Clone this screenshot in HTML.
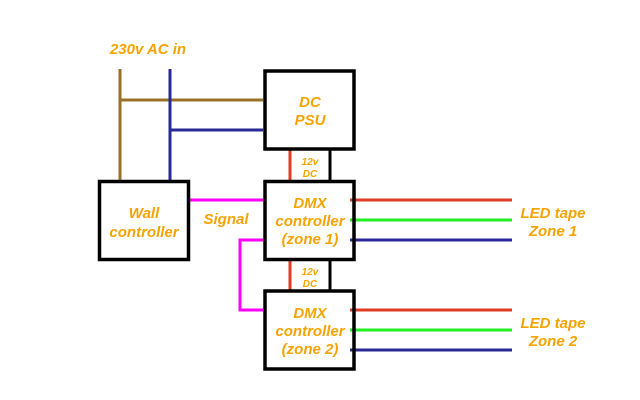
<!DOCTYPE html>
<html><head><meta charset="utf-8"><style>
html,body{margin:0;padding:0;background:#fff;width:640px;height:400px;overflow:hidden}
text{font-family:"Liberation Sans",sans-serif;font-weight:bold;font-style:italic;fill:#f5a300;text-anchor:middle}
</style></head><body>
<svg width="640" height="400" viewBox="0 0 640 400" xmlns="http://www.w3.org/2000/svg">
<g fill="none" stroke-width="3">
<path d="M120 69V181M120 100H263" stroke="#9a7027"/>
<path d="M170 69V181M170 130H263" stroke="#282896"/>
<path d="M290 150V181M290 260V291" stroke="#e03b24"/>
<path d="M330 150V181M330 260V291" stroke="#000"/>
<path d="M190 200H263M263 240H240V310H263" stroke="#ff00ff"/>
<path d="M350 200H512M350 310H512" stroke="#e03b24"/>
<path d="M350 220H512M350 330H512" stroke="#22ee22"/>
<path d="M350 240H512M350 350H512" stroke="#282896"/>
</g>
<g fill="none" stroke-width="3.5" stroke="#000">
<rect x="265" y="71" width="89" height="78"/>
<rect x="99.5" y="181.5" width="89" height="78"/>
<rect x="265" y="181.5" width="89" height="78"/>
<rect x="265" y="291" width="89" height="78"/>
</g>
<text x="148" y="54" font-size="15">230v AC in</text>
<text x="310" y="107" font-size="15">DC</text>
<text x="310" y="125" font-size="15">PSU</text>
<text x="310" y="165" font-size="10">12v</text>
<text x="310" y="177" font-size="10">DC</text>
<text x="310" y="275" font-size="10">12v</text>
<text x="310" y="287" font-size="10">DC</text>
<text x="144" y="218" font-size="15">Wall</text>
<text x="144" y="237" font-size="15">controller</text>
<text x="226" y="224" font-size="15">Signal</text>
<text x="310" y="208" font-size="15">DMX</text>
<text x="310" y="226" font-size="15">controller</text>
<text x="310" y="244" font-size="15">(zone 1)</text>
<text x="310" y="318" font-size="15">DMX</text>
<text x="310" y="336" font-size="15">controller</text>
<text x="310" y="354" font-size="15">(zone 2)</text>
<text x="553" y="218" font-size="15">LED tape</text>
<text x="553" y="236" font-size="15">Zone 1</text>
<text x="553" y="328" font-size="15">LED tape</text>
<text x="553" y="346" font-size="15">Zone 2</text>
</svg>
</body></html>
